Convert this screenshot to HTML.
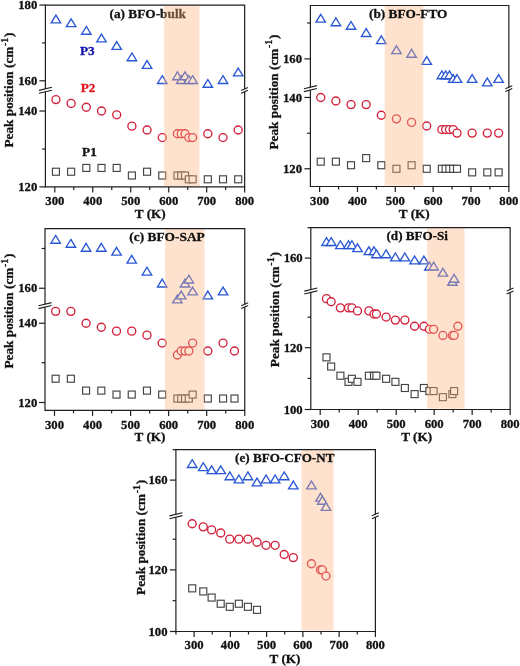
<!DOCTYPE html>
<html><head><meta charset="utf-8"><title>Peak position vs T</title>
<style>
html,body{margin:0;padding:0;background:#fff}
svg{display:block;filter:blur(0.35px)}
svg{font-family:"Liberation Serif",serif;font-weight:bold;font-size:12.7px}
</style></head><body>
<svg width="520" height="666" viewBox="0 0 520 666">
<rect width="520" height="666" fill="#fff"/>
<g fill="#111" stroke="#111" stroke-width="0.3">
<text x="109.5" y="18.2" font-size="13.3">(a) BFO-bulk</text>
<g fill="#fff" stroke-width="1.35">
<path d="M55.94 15.10L60.69 22.90L51.19 22.90Z" stroke="#2a58d4"/>
<path d="M71.13 18.89L75.88 26.69L66.38 26.69Z" stroke="#2a58d4"/>
<path d="M86.32 26.46L91.07 34.26L81.57 34.26Z" stroke="#2a58d4"/>
<path d="M101.50 34.04L106.25 41.84L96.75 41.84Z" stroke="#2a58d4"/>
<path d="M116.69 41.61L121.44 49.41L111.94 49.41Z" stroke="#2a58d4"/>
<path d="M131.88 52.97L136.63 60.77L127.13 60.77Z" stroke="#2a58d4"/>
<path d="M147.07 60.55L151.82 68.35L142.32 68.35Z" stroke="#2a58d4"/>
<path d="M162.26 75.70L167.01 83.50L157.51 83.50Z" stroke="#2a58d4"/>
<path d="M177.44 71.91L182.19 79.71L172.69 79.71Z" stroke="#2a58d4"/>
<path d="M181.24 75.70L185.99 83.50L176.49 83.50Z" stroke="#2a58d4"/>
<path d="M185.04 71.91L189.79 79.71L180.29 79.71Z" stroke="#2a58d4"/>
<path d="M188.83 75.70L193.58 83.50L184.08 83.50Z" stroke="#2a58d4"/>
<path d="M192.63 75.70L197.38 83.50L187.88 83.50Z" stroke="#2a58d4"/>
<path d="M207.82 79.49L212.57 87.29L203.07 87.29Z" stroke="#2a58d4"/>
<path d="M223.01 75.70L227.76 83.50L218.26 83.50Z" stroke="#2a58d4"/>
<path d="M238.20 68.12L242.95 75.92L233.45 75.92Z" stroke="#2a58d4"/>
<circle cx="55.94" cy="99.61" r="4.0" stroke="#d4203c"/>
<circle cx="71.13" cy="103.41" r="4.0" stroke="#d4203c"/>
<circle cx="86.32" cy="107.20" r="4.0" stroke="#d4203c"/>
<circle cx="101.50" cy="111.00" r="4.0" stroke="#d4203c"/>
<circle cx="116.69" cy="114.80" r="4.0" stroke="#d4203c"/>
<circle cx="131.88" cy="126.18" r="4.0" stroke="#d4203c"/>
<circle cx="147.07" cy="129.97" r="4.0" stroke="#d4203c"/>
<circle cx="162.26" cy="137.56" r="4.0" stroke="#d4203c"/>
<circle cx="177.44" cy="133.77" r="4.0" stroke="#d4203c"/>
<circle cx="181.24" cy="133.77" r="4.0" stroke="#d4203c"/>
<circle cx="185.04" cy="133.77" r="4.0" stroke="#d4203c"/>
<circle cx="188.83" cy="137.56" r="4.0" stroke="#d4203c"/>
<circle cx="192.63" cy="137.56" r="4.0" stroke="#d4203c"/>
<circle cx="207.82" cy="133.77" r="4.0" stroke="#d4203c"/>
<circle cx="223.01" cy="137.56" r="4.0" stroke="#d4203c"/>
<circle cx="238.20" cy="129.97" r="4.0" stroke="#d4203c"/>
<rect x="52.44" y="168.22" width="7" height="7" stroke="#444444" stroke-width="1.15"/>
<rect x="67.63" y="168.22" width="7" height="7" stroke="#444444" stroke-width="1.15"/>
<rect x="82.82" y="164.43" width="7" height="7" stroke="#444444" stroke-width="1.15"/>
<rect x="98.00" y="164.43" width="7" height="7" stroke="#444444" stroke-width="1.15"/>
<rect x="113.19" y="164.43" width="7" height="7" stroke="#444444" stroke-width="1.15"/>
<rect x="128.38" y="172.01" width="7" height="7" stroke="#444444" stroke-width="1.15"/>
<rect x="143.57" y="168.22" width="7" height="7" stroke="#444444" stroke-width="1.15"/>
<rect x="158.76" y="172.01" width="7" height="7" stroke="#444444" stroke-width="1.15"/>
<rect x="173.94" y="172.01" width="7" height="7" stroke="#444444" stroke-width="1.15"/>
<rect x="177.74" y="172.01" width="7" height="7" stroke="#444444" stroke-width="1.15"/>
<rect x="181.54" y="172.01" width="7" height="7" stroke="#444444" stroke-width="1.15"/>
<rect x="185.33" y="175.81" width="7" height="7" stroke="#444444" stroke-width="1.15"/>
<rect x="189.13" y="175.81" width="7" height="7" stroke="#444444" stroke-width="1.15"/>
<rect x="204.32" y="175.81" width="7" height="7" stroke="#444444" stroke-width="1.15"/>
<rect x="219.51" y="175.81" width="7" height="7" stroke="#444444" stroke-width="1.15"/>
<rect x="234.70" y="175.81" width="7" height="7" stroke="#444444" stroke-width="1.15"/>
</g>
<text x="80" y="54.9" fill="#1212aa" stroke="#1212aa" font-size="13.2">P3</text>
<text x="80.7" y="91.5" fill="#de1822" stroke="#de1822" font-size="13.2">P2</text>
<text x="82.1" y="156.1" fill="#111" stroke="#111" font-size="13.2">P1</text>
<rect x="164.1" y="5.55" width="35.400000000000006" height="180.45" fill="rgba(252,179,126,0.38)" stroke="none"/>
<g stroke="#1e1e1e" stroke-width="1.2" fill="none">
<path d="M45.4 5.05H244.65V186.9H45.4Z"/>
<path d="M54.80 186.9v5.5"/>
<path d="M92.77 186.9v5.5"/>
<path d="M130.74 186.9v5.5"/>
<path d="M168.71 186.9v5.5"/>
<path d="M206.68 186.9v5.5"/>
<path d="M244.65 186.9v5.5"/>
<path d="M73.78 186.9v3"/>
<path d="M111.75 186.9v3"/>
<path d="M149.72 186.9v3"/>
<path d="M187.69 186.9v3"/>
<path d="M225.66 186.9v3"/>
<path d="M45.4 5.05h-6"/>
<path d="M45.4 80.8h-6"/>
<path d="M45.4 111h-6"/>
<path d="M45.4 186.9h-6"/>
<path d="M45.4 42.9h-3.3"/>
<path d="M45.4 149h-3.3"/>
</g>
<path d="M44.4 89.1v2.6h2v-2.6z" fill="#fff" stroke="none" transform="skewY(0)"/>
<path d="M38.9 90.39999999999999l13 -3.1M38.9 93.3l13 -3.1" stroke="#1e1e1e" stroke-width="1.1" fill="none"/>
<path d="M243.65 89.1v2.6h2v-2.6z" fill="#fff" stroke="none" transform="skewY(0)"/>
<path d="M241.15 90.39999999999999l6.9 -3.0M241.15 93.3l6.9 -3.0" stroke="#1e1e1e" stroke-width="1.1" fill="none"/>
<text x="54.80" y="204.6" text-anchor="middle">300</text>
<text x="92.77" y="204.6" text-anchor="middle">400</text>
<text x="130.74" y="204.6" text-anchor="middle">500</text>
<text x="168.71" y="204.6" text-anchor="middle">600</text>
<text x="206.68" y="204.6" text-anchor="middle">700</text>
<text x="244.65" y="204.6" text-anchor="middle">800</text>
<text x="37.3" y="9.25" text-anchor="end">180</text>
<text x="37.3" y="85.00" text-anchor="end">160</text>
<text x="37.3" y="115.20" text-anchor="end">140</text>
<text x="37.3" y="191.10" text-anchor="end">120</text>
<text x="150.3" y="218.3" text-anchor="middle" font-size="13.2">T (K)</text>
<text transform="translate(12.9 90) rotate(-90)" text-anchor="middle" font-size="13.25">Peak position (cm<tspan font-size="10" dy="-5.4" dx="0.7">-1</tspan><tspan dy="5.4" dx="0.7">)</tspan></text>
</g>
<g fill="#111" stroke="#111" stroke-width="0.3">
<g fill="#fff" stroke-width="1.35">
<path d="M320.74 14.31L325.49 22.11L315.99 22.11Z" stroke="#2a58d4"/>
<path d="M335.88 17.90L340.63 25.70L331.13 25.70Z" stroke="#2a58d4"/>
<path d="M351.02 21.49L355.77 29.29L346.27 29.29Z" stroke="#2a58d4"/>
<path d="M366.16 28.67L370.91 36.47L361.41 36.47Z" stroke="#2a58d4"/>
<path d="M381.30 35.85L386.05 43.65L376.55 43.65Z" stroke="#2a58d4"/>
<path d="M396.44 45.82L401.19 53.62L391.69 53.62Z" stroke="#2a58d4"/>
<path d="M411.58 49.41L416.33 57.21L406.83 57.21Z" stroke="#2a58d4"/>
<path d="M426.72 56.59L431.47 64.39L421.97 64.39Z" stroke="#2a58d4"/>
<path d="M441.86 70.95L446.61 78.75L437.11 78.75Z" stroke="#2a58d4"/>
<path d="M445.64 70.95L450.39 78.75L440.89 78.75Z" stroke="#2a58d4"/>
<path d="M449.43 70.95L454.18 78.75L444.68 78.75Z" stroke="#2a58d4"/>
<path d="M453.21 74.54L457.96 82.34L448.46 82.34Z" stroke="#2a58d4"/>
<path d="M457.00 74.54L461.75 82.34L452.25 82.34Z" stroke="#2a58d4"/>
<path d="M472.14 74.54L476.89 82.34L467.39 82.34Z" stroke="#2a58d4"/>
<path d="M487.28 78.13L492.03 85.93L482.53 85.93Z" stroke="#2a58d4"/>
<path d="M498.63 74.54L503.38 82.34L493.88 82.34Z" stroke="#2a58d4"/>
<circle cx="320.74" cy="97.45" r="4.0" stroke="#d4203c"/>
<circle cx="335.88" cy="101.02" r="4.0" stroke="#d4203c"/>
<circle cx="351.02" cy="104.59" r="4.0" stroke="#d4203c"/>
<circle cx="366.16" cy="104.59" r="4.0" stroke="#d4203c"/>
<circle cx="381.30" cy="115.29" r="4.0" stroke="#d4203c"/>
<circle cx="396.44" cy="118.86" r="4.0" stroke="#d4203c"/>
<circle cx="411.58" cy="122.42" r="4.0" stroke="#d4203c"/>
<circle cx="426.72" cy="125.99" r="4.0" stroke="#d4203c"/>
<circle cx="441.86" cy="129.56" r="4.0" stroke="#d4203c"/>
<circle cx="445.64" cy="129.56" r="4.0" stroke="#d4203c"/>
<circle cx="449.43" cy="129.56" r="4.0" stroke="#d4203c"/>
<circle cx="453.21" cy="129.56" r="4.0" stroke="#d4203c"/>
<circle cx="457.00" cy="133.12" r="4.0" stroke="#d4203c"/>
<circle cx="472.14" cy="133.12" r="4.0" stroke="#d4203c"/>
<circle cx="487.28" cy="133.12" r="4.0" stroke="#d4203c"/>
<circle cx="498.63" cy="133.12" r="4.0" stroke="#d4203c"/>
<rect x="317.24" y="158.17" width="7" height="7" stroke="#444444" stroke-width="1.15"/>
<rect x="332.38" y="158.17" width="7" height="7" stroke="#444444" stroke-width="1.15"/>
<rect x="347.52" y="161.73" width="7" height="7" stroke="#444444" stroke-width="1.15"/>
<rect x="362.66" y="154.60" width="7" height="7" stroke="#444444" stroke-width="1.15"/>
<rect x="377.80" y="161.73" width="7" height="7" stroke="#444444" stroke-width="1.15"/>
<rect x="392.94" y="165.30" width="7" height="7" stroke="#444444" stroke-width="1.15"/>
<rect x="408.08" y="161.73" width="7" height="7" stroke="#444444" stroke-width="1.15"/>
<rect x="423.22" y="165.30" width="7" height="7" stroke="#444444" stroke-width="1.15"/>
<rect x="438.36" y="165.30" width="7" height="7" stroke="#444444" stroke-width="1.15"/>
<rect x="442.14" y="165.30" width="7" height="7" stroke="#444444" stroke-width="1.15"/>
<rect x="445.93" y="165.30" width="7" height="7" stroke="#444444" stroke-width="1.15"/>
<rect x="449.71" y="165.30" width="7" height="7" stroke="#444444" stroke-width="1.15"/>
<rect x="453.50" y="165.30" width="7" height="7" stroke="#444444" stroke-width="1.15"/>
<rect x="468.64" y="168.87" width="7" height="7" stroke="#444444" stroke-width="1.15"/>
<rect x="483.78" y="168.87" width="7" height="7" stroke="#444444" stroke-width="1.15"/>
<rect x="495.13" y="168.87" width="7" height="7" stroke="#444444" stroke-width="1.15"/>
</g>
<rect x="384.7" y="6.0" width="38.5" height="179.6" fill="rgba(252,179,126,0.38)" stroke="none"/>
<text x="369.0" y="17.9" font-size="13.3">(b) BFO-FTO</text>
<g stroke="#1e1e1e" stroke-width="1.2" fill="none">
<path d="M310.4 5.5H508.85V186.5H310.4Z"/>
<path d="M319.60 186.5v5.5"/>
<path d="M357.45 186.5v5.5"/>
<path d="M395.30 186.5v5.5"/>
<path d="M433.15 186.5v5.5"/>
<path d="M471.00 186.5v5.5"/>
<path d="M508.85 186.5v5.5"/>
<path d="M338.53 186.5v3"/>
<path d="M376.38 186.5v3"/>
<path d="M414.23 186.5v3"/>
<path d="M452.08 186.5v3"/>
<path d="M489.93 186.5v3"/>
<path d="M310.4 58.9h-6"/>
<path d="M310.4 97.45h-6"/>
<path d="M310.4 168.8h-6"/>
<path d="M310.4 23h-3.3"/>
<path d="M310.4 133.25h-3.3"/>
</g>
<path d="M309.4 87.39999999999999v2.6h2v-2.6z" fill="#fff" stroke="none" transform="skewY(0)"/>
<path d="M303.9 88.69999999999999l13 -3.1M303.9 91.6l13 -3.1" stroke="#1e1e1e" stroke-width="1.1" fill="none"/>
<path d="M507.85 87.39999999999999v2.6h2v-2.6z" fill="#fff" stroke="none" transform="skewY(0)"/>
<path d="M505.35 88.69999999999999l6.9 -3.0M505.35 91.6l6.9 -3.0" stroke="#1e1e1e" stroke-width="1.1" fill="none"/>
<text x="319.60" y="204.6" text-anchor="middle">300</text>
<text x="357.45" y="204.6" text-anchor="middle">400</text>
<text x="395.30" y="204.6" text-anchor="middle">500</text>
<text x="433.15" y="204.6" text-anchor="middle">600</text>
<text x="471.00" y="204.6" text-anchor="middle">700</text>
<text x="508.85" y="204.6" text-anchor="middle">800</text>
<text x="302" y="63.10" text-anchor="end">160</text>
<text x="302" y="101.65" text-anchor="end">140</text>
<text x="302" y="173.00" text-anchor="end">120</text>
<text x="414.3" y="218.3" text-anchor="middle" font-size="13.2">T (K)</text>
<text transform="translate(277.85 92) rotate(-90)" text-anchor="middle" font-size="13.25">Peak position (cm<tspan font-size="10" dy="-5.4" dx="0.7">-1</tspan><tspan dy="5.4" dx="0.7">)</tspan></text>
</g>
<g fill="#111" stroke="#111" stroke-width="0.3">
<g fill="#fff" stroke-width="1.35">
<path d="M55.64 235.45L60.39 243.25L50.89 243.25Z" stroke="#2a58d4"/>
<path d="M70.86 239.43L75.61 247.22L66.11 247.22Z" stroke="#2a58d4"/>
<path d="M86.08 243.40L90.83 251.20L81.33 251.20Z" stroke="#2a58d4"/>
<path d="M101.30 243.40L106.05 251.20L96.55 251.20Z" stroke="#2a58d4"/>
<path d="M116.52 247.38L121.27 255.17L111.77 255.17Z" stroke="#2a58d4"/>
<path d="M131.74 255.33L136.49 263.12L126.99 263.12Z" stroke="#2a58d4"/>
<path d="M146.96 267.25L151.71 275.05L142.21 275.05Z" stroke="#2a58d4"/>
<path d="M162.18 279.17L166.93 286.97L157.43 286.97Z" stroke="#2a58d4"/>
<path d="M177.40 295.07L182.15 302.88L172.65 302.88Z" stroke="#2a58d4"/>
<path d="M181.21 291.10L185.96 298.90L176.46 298.90Z" stroke="#2a58d4"/>
<path d="M185.01 279.17L189.76 286.97L180.26 286.97Z" stroke="#2a58d4"/>
<path d="M188.82 275.20L193.57 283.00L184.07 283.00Z" stroke="#2a58d4"/>
<path d="M192.62 287.12L197.37 294.93L187.87 294.93Z" stroke="#2a58d4"/>
<path d="M207.84 291.10L212.59 298.90L203.09 298.90Z" stroke="#2a58d4"/>
<path d="M223.06 287.12L227.81 294.93L218.31 294.93Z" stroke="#2a58d4"/>
<circle cx="55.64" cy="311.36" r="4.0" stroke="#d4203c"/>
<circle cx="70.86" cy="311.36" r="4.0" stroke="#d4203c"/>
<circle cx="86.08" cy="323.25" r="4.0" stroke="#d4203c"/>
<circle cx="101.30" cy="327.21" r="4.0" stroke="#d4203c"/>
<circle cx="116.52" cy="331.18" r="4.0" stroke="#d4203c"/>
<circle cx="131.74" cy="331.18" r="4.0" stroke="#d4203c"/>
<circle cx="146.96" cy="335.14" r="4.0" stroke="#d4203c"/>
<circle cx="162.18" cy="343.06" r="4.0" stroke="#d4203c"/>
<circle cx="177.40" cy="354.95" r="4.0" stroke="#d4203c"/>
<circle cx="181.21" cy="350.99" r="4.0" stroke="#d4203c"/>
<circle cx="185.01" cy="350.99" r="4.0" stroke="#d4203c"/>
<circle cx="188.82" cy="350.99" r="4.0" stroke="#d4203c"/>
<circle cx="192.62" cy="343.06" r="4.0" stroke="#d4203c"/>
<circle cx="207.84" cy="350.99" r="4.0" stroke="#d4203c"/>
<circle cx="223.06" cy="343.06" r="4.0" stroke="#d4203c"/>
<circle cx="234.48" cy="350.99" r="4.0" stroke="#d4203c"/>
<rect x="52.14" y="375.23" width="7" height="7" stroke="#444444" stroke-width="1.15"/>
<rect x="67.36" y="375.23" width="7" height="7" stroke="#444444" stroke-width="1.15"/>
<rect x="82.58" y="387.11" width="7" height="7" stroke="#444444" stroke-width="1.15"/>
<rect x="97.80" y="387.11" width="7" height="7" stroke="#444444" stroke-width="1.15"/>
<rect x="113.02" y="391.07" width="7" height="7" stroke="#444444" stroke-width="1.15"/>
<rect x="128.24" y="391.07" width="7" height="7" stroke="#444444" stroke-width="1.15"/>
<rect x="143.46" y="387.11" width="7" height="7" stroke="#444444" stroke-width="1.15"/>
<rect x="158.68" y="391.07" width="7" height="7" stroke="#444444" stroke-width="1.15"/>
<rect x="173.90" y="395.04" width="7" height="7" stroke="#444444" stroke-width="1.15"/>
<rect x="177.71" y="395.04" width="7" height="7" stroke="#444444" stroke-width="1.15"/>
<rect x="181.51" y="395.04" width="7" height="7" stroke="#444444" stroke-width="1.15"/>
<rect x="185.32" y="395.04" width="7" height="7" stroke="#444444" stroke-width="1.15"/>
<rect x="189.12" y="391.07" width="7" height="7" stroke="#444444" stroke-width="1.15"/>
<rect x="204.34" y="395.04" width="7" height="7" stroke="#444444" stroke-width="1.15"/>
<rect x="219.56" y="395.04" width="7" height="7" stroke="#444444" stroke-width="1.15"/>
<rect x="230.98" y="395.04" width="7" height="7" stroke="#444444" stroke-width="1.15"/>
</g>
<rect x="165.1" y="229.2" width="39.400000000000006" height="180.29999999999998" fill="rgba(252,179,126,0.38)" stroke="none"/>
<text x="129.3" y="240.9" font-size="13.4">(c) BFO-SAP</text>
<g stroke="#1e1e1e" stroke-width="1.2" fill="none">
<path d="M45 228.7H244.75V410.4H45Z"/>
<path d="M54.50 410.4v5.5"/>
<path d="M92.55 410.4v5.5"/>
<path d="M130.60 410.4v5.5"/>
<path d="M168.65 410.4v5.5"/>
<path d="M206.70 410.4v5.5"/>
<path d="M244.75 410.4v5.5"/>
<path d="M73.53 410.4v3"/>
<path d="M111.58 410.4v3"/>
<path d="M149.62 410.4v3"/>
<path d="M187.68 410.4v3"/>
<path d="M225.72 410.4v3"/>
<path d="M45 288.25h-6"/>
<path d="M45 323.25h-6"/>
<path d="M45 402.5h-6"/>
<path d="M45 248.5h-3.3"/>
<path d="M45 362.7h-3.3"/>
</g>
<path d="M44 304.40000000000003v2.6h2v-2.6z" fill="#fff" stroke="none" transform="skewY(0)"/>
<path d="M38.5 305.70000000000005l13 -3.1M38.5 308.6l13 -3.1" stroke="#1e1e1e" stroke-width="1.1" fill="none"/>
<path d="M243.75 304.40000000000003v2.6h2v-2.6z" fill="#fff" stroke="none" transform="skewY(0)"/>
<path d="M241.25 305.70000000000005l6.9 -3.0M241.25 308.6l6.9 -3.0" stroke="#1e1e1e" stroke-width="1.1" fill="none"/>
<text x="54.50" y="428.85" text-anchor="middle">300</text>
<text x="92.55" y="428.85" text-anchor="middle">400</text>
<text x="130.60" y="428.85" text-anchor="middle">500</text>
<text x="168.65" y="428.85" text-anchor="middle">600</text>
<text x="206.70" y="428.85" text-anchor="middle">700</text>
<text x="244.75" y="428.85" text-anchor="middle">800</text>
<text x="37.3" y="292.45" text-anchor="end">160</text>
<text x="37.3" y="327.45" text-anchor="end">140</text>
<text x="37.3" y="406.70" text-anchor="end">120</text>
<text x="150" y="441.25" text-anchor="middle" font-size="13.2">T (K)</text>
<text transform="translate(12.9 311) rotate(-90)" text-anchor="middle" font-size="13.25">Peak position (cm<tspan font-size="10" dy="-5.4" dx="0.7">-1</tspan><tspan dy="5.4" dx="0.7">)</tspan></text>
</g>
<g fill="#111" stroke="#111" stroke-width="0.3">
<g fill="#fff" stroke-width="1.35">
<path d="M326.50 237.70L331.25 245.50L321.75 245.50Z" stroke="#2a58d4"/>
<path d="M331.15 237.70L335.90 245.50L326.40 245.50Z" stroke="#2a58d4"/>
<path d="M340.40 240.76L345.15 248.56L335.65 248.56Z" stroke="#2a58d4"/>
<path d="M348.50 240.76L353.25 248.56L343.75 248.56Z" stroke="#2a58d4"/>
<path d="M351.90 240.76L356.65 248.56L347.15 248.56Z" stroke="#2a58d4"/>
<path d="M357.50 243.82L362.25 251.62L352.75 251.62Z" stroke="#2a58d4"/>
<path d="M368.90 246.88L373.65 254.68L364.15 254.68Z" stroke="#2a58d4"/>
<path d="M374.00 246.88L378.75 254.68L369.25 254.68Z" stroke="#2a58d4"/>
<path d="M376.40 249.94L381.15 257.74L371.65 257.74Z" stroke="#2a58d4"/>
<path d="M386.10 249.94L390.85 257.74L381.35 257.74Z" stroke="#2a58d4"/>
<path d="M395.40 253.00L400.15 260.80L390.65 260.80Z" stroke="#2a58d4"/>
<path d="M404.85 253.00L409.60 260.80L400.10 260.80Z" stroke="#2a58d4"/>
<path d="M414.60 256.06L419.35 263.86L409.85 263.86Z" stroke="#2a58d4"/>
<path d="M423.90 256.06L428.65 263.86L419.15 263.86Z" stroke="#2a58d4"/>
<path d="M429.40 262.18L434.15 269.98L424.65 269.98Z" stroke="#2a58d4"/>
<path d="M433.60 262.18L438.35 269.98L428.85 269.98Z" stroke="#2a58d4"/>
<path d="M442.90 268.30L447.65 276.10L438.15 276.10Z" stroke="#2a58d4"/>
<path d="M452.40 277.48L457.15 285.28L447.65 285.28Z" stroke="#2a58d4"/>
<path d="M454.10 274.42L458.85 282.22L449.35 282.22Z" stroke="#2a58d4"/>
<circle cx="326.50" cy="298.66" r="4.0" stroke="#d4203c"/>
<circle cx="331.15" cy="301.72" r="4.0" stroke="#d4203c"/>
<circle cx="340.40" cy="307.86" r="4.0" stroke="#d4203c"/>
<circle cx="348.50" cy="307.86" r="4.0" stroke="#d4203c"/>
<circle cx="351.90" cy="307.86" r="4.0" stroke="#d4203c"/>
<circle cx="357.50" cy="310.92" r="4.0" stroke="#d4203c"/>
<circle cx="368.90" cy="310.92" r="4.0" stroke="#d4203c"/>
<circle cx="374.00" cy="313.99" r="4.0" stroke="#d4203c"/>
<circle cx="376.40" cy="313.99" r="4.0" stroke="#d4203c"/>
<circle cx="386.10" cy="317.05" r="4.0" stroke="#d4203c"/>
<circle cx="395.40" cy="320.12" r="4.0" stroke="#d4203c"/>
<circle cx="404.85" cy="320.12" r="4.0" stroke="#d4203c"/>
<circle cx="414.60" cy="326.25" r="4.0" stroke="#d4203c"/>
<circle cx="423.90" cy="326.25" r="4.0" stroke="#d4203c"/>
<circle cx="429.40" cy="329.31" r="4.0" stroke="#d4203c"/>
<circle cx="433.60" cy="329.31" r="4.0" stroke="#d4203c"/>
<circle cx="442.90" cy="335.44" r="4.0" stroke="#d4203c"/>
<circle cx="452.40" cy="335.44" r="4.0" stroke="#d4203c"/>
<circle cx="454.10" cy="335.44" r="4.0" stroke="#d4203c"/>
<circle cx="457.90" cy="326.25" r="4.0" stroke="#d4203c"/>
<rect x="323.00" y="353.84" width="7" height="7" stroke="#444444" stroke-width="1.15"/>
<rect x="327.65" y="363.04" width="7" height="7" stroke="#444444" stroke-width="1.15"/>
<rect x="336.90" y="372.23" width="7" height="7" stroke="#444444" stroke-width="1.15"/>
<rect x="345.00" y="378.36" width="7" height="7" stroke="#444444" stroke-width="1.15"/>
<rect x="348.40" y="375.30" width="7" height="7" stroke="#444444" stroke-width="1.15"/>
<rect x="354.00" y="378.36" width="7" height="7" stroke="#444444" stroke-width="1.15"/>
<rect x="365.40" y="372.23" width="7" height="7" stroke="#444444" stroke-width="1.15"/>
<rect x="370.50" y="372.23" width="7" height="7" stroke="#444444" stroke-width="1.15"/>
<rect x="372.90" y="372.23" width="7" height="7" stroke="#444444" stroke-width="1.15"/>
<rect x="382.60" y="375.30" width="7" height="7" stroke="#444444" stroke-width="1.15"/>
<rect x="391.90" y="378.36" width="7" height="7" stroke="#444444" stroke-width="1.15"/>
<rect x="401.35" y="384.49" width="7" height="7" stroke="#444444" stroke-width="1.15"/>
<rect x="411.10" y="390.62" width="7" height="7" stroke="#444444" stroke-width="1.15"/>
<rect x="420.40" y="384.49" width="7" height="7" stroke="#444444" stroke-width="1.15"/>
<rect x="425.90" y="387.56" width="7" height="7" stroke="#444444" stroke-width="1.15"/>
<rect x="430.10" y="387.56" width="7" height="7" stroke="#444444" stroke-width="1.15"/>
<rect x="439.40" y="393.69" width="7" height="7" stroke="#444444" stroke-width="1.15"/>
<rect x="448.90" y="390.62" width="7" height="7" stroke="#444444" stroke-width="1.15"/>
<rect x="450.60" y="387.56" width="7" height="7" stroke="#444444" stroke-width="1.15"/>
</g>
<rect x="427.2" y="228.2" width="37.30000000000001" height="180.4" fill="rgba(252,179,126,0.38)" stroke="none"/>
<text x="386.5" y="240.4" font-size="13.1">(d) BFO-Si</text>
<g stroke="#1e1e1e" stroke-width="1.2" fill="none">
<path d="M310.8 227.7H510.15V409.5H310.8Z"/>
<path d="M320.20 409.5v5.5"/>
<path d="M358.19 409.5v5.5"/>
<path d="M396.18 409.5v5.5"/>
<path d="M434.17 409.5v5.5"/>
<path d="M472.16 409.5v5.5"/>
<path d="M510.15 409.5v5.5"/>
<path d="M339.19 409.5v3"/>
<path d="M377.19 409.5v3"/>
<path d="M415.18 409.5v3"/>
<path d="M453.16 409.5v3"/>
<path d="M491.15 409.5v3"/>
<path d="M310.8 258.1h-6"/>
<path d="M310.8 347.7h-6"/>
<path d="M310.8 409.5h-6"/>
<path d="M310.8 227.7h-3.3"/>
<path d="M310.8 317.2h-3.3"/>
<path d="M310.8 378.4h-3.3"/>
</g>
<path d="M309.8 289.8v2.6h2v-2.6z" fill="#fff" stroke="none" transform="skewY(0)"/>
<path d="M304.3 291.1l13 -3.1M304.3 294l13 -3.1" stroke="#1e1e1e" stroke-width="1.1" fill="none"/>
<path d="M509.15 289.8v2.6h2v-2.6z" fill="#fff" stroke="none" transform="skewY(0)"/>
<path d="M506.65 291.1l6.9 -3.0M506.65 294.0l6.9 -3.0" stroke="#1e1e1e" stroke-width="1.1" fill="none"/>
<text x="320.20" y="428.2" text-anchor="middle">300</text>
<text x="358.19" y="428.2" text-anchor="middle">400</text>
<text x="396.18" y="428.2" text-anchor="middle">500</text>
<text x="434.17" y="428.2" text-anchor="middle">600</text>
<text x="472.16" y="428.2" text-anchor="middle">700</text>
<text x="510.15" y="428.2" text-anchor="middle">800</text>
<text x="302.7" y="262.30" text-anchor="end">160</text>
<text x="302.7" y="351.90" text-anchor="end">120</text>
<text x="302.7" y="413.70" text-anchor="end">100</text>
<text x="416.7" y="441.25" text-anchor="middle" font-size="13.2">T (K)</text>
<text transform="translate(279.3 309.7) rotate(-90)" text-anchor="middle" font-size="13.25">Peak position (cm<tspan font-size="10" dy="-5.4" dx="0.7">-1</tspan><tspan dy="5.4" dx="0.7">)</tspan></text>
</g>
<g fill="#111" stroke="#111" stroke-width="0.3">
<g fill="#fff" stroke-width="1.35">
<path d="M192.20 459.70L196.95 467.50L187.45 467.50Z" stroke="#2a58d4"/>
<path d="M203.27 462.76L208.02 470.56L198.52 470.56Z" stroke="#2a58d4"/>
<path d="M211.62 465.82L216.37 473.62L206.87 473.62Z" stroke="#2a58d4"/>
<path d="M220.70 465.82L225.45 473.62L215.95 473.62Z" stroke="#2a58d4"/>
<path d="M229.77 471.94L234.52 479.74L225.02 479.74Z" stroke="#2a58d4"/>
<path d="M238.85 475.00L243.60 482.80L234.10 482.80Z" stroke="#2a58d4"/>
<path d="M247.92 471.94L252.67 479.74L243.17 479.74Z" stroke="#2a58d4"/>
<path d="M257.00 478.06L261.75 485.86L252.25 485.86Z" stroke="#2a58d4"/>
<path d="M266.07 475.00L270.82 482.80L261.32 482.80Z" stroke="#2a58d4"/>
<path d="M275.15 475.00L279.90 482.80L270.40 482.80Z" stroke="#2a58d4"/>
<path d="M284.22 471.94L288.97 479.74L279.47 479.74Z" stroke="#2a58d4"/>
<path d="M293.30 481.12L298.05 488.92L288.55 488.92Z" stroke="#2a58d4"/>
<path d="M311.45 481.12L316.20 488.92L306.70 488.92Z" stroke="#2a58d4"/>
<path d="M320.52 493.36L325.27 501.16L315.77 501.16Z" stroke="#2a58d4"/>
<path d="M322.34 496.42L327.09 504.22L317.59 504.22Z" stroke="#2a58d4"/>
<path d="M325.97 502.54L330.72 510.34L321.22 510.34Z" stroke="#2a58d4"/>
<circle cx="192.20" cy="523.77" r="4.0" stroke="#d4203c"/>
<circle cx="203.27" cy="526.85" r="4.0" stroke="#d4203c"/>
<circle cx="211.62" cy="529.92" r="4.0" stroke="#d4203c"/>
<circle cx="220.70" cy="533.00" r="4.0" stroke="#d4203c"/>
<circle cx="229.77" cy="539.15" r="4.0" stroke="#d4203c"/>
<circle cx="238.85" cy="539.15" r="4.0" stroke="#d4203c"/>
<circle cx="247.92" cy="539.15" r="4.0" stroke="#d4203c"/>
<circle cx="257.00" cy="542.23" r="4.0" stroke="#d4203c"/>
<circle cx="266.07" cy="545.30" r="4.0" stroke="#d4203c"/>
<circle cx="275.15" cy="545.30" r="4.0" stroke="#d4203c"/>
<circle cx="284.22" cy="554.52" r="4.0" stroke="#d4203c"/>
<circle cx="293.30" cy="557.60" r="4.0" stroke="#d4203c"/>
<circle cx="311.45" cy="563.75" r="4.0" stroke="#d4203c"/>
<circle cx="320.52" cy="569.90" r="4.0" stroke="#d4203c"/>
<circle cx="322.34" cy="569.90" r="4.0" stroke="#d4203c"/>
<circle cx="325.97" cy="576.05" r="4.0" stroke="#d4203c"/>
<rect x="188.70" y="584.85" width="7" height="7" stroke="#444444" stroke-width="1.15"/>
<rect x="199.77" y="587.92" width="7" height="7" stroke="#444444" stroke-width="1.15"/>
<rect x="208.12" y="594.07" width="7" height="7" stroke="#444444" stroke-width="1.15"/>
<rect x="217.20" y="600.23" width="7" height="7" stroke="#444444" stroke-width="1.15"/>
<rect x="226.27" y="603.30" width="7" height="7" stroke="#444444" stroke-width="1.15"/>
<rect x="235.35" y="600.23" width="7" height="7" stroke="#444444" stroke-width="1.15"/>
<rect x="244.42" y="603.30" width="7" height="7" stroke="#444444" stroke-width="1.15"/>
<rect x="253.50" y="606.38" width="7" height="7" stroke="#444444" stroke-width="1.15"/>
</g>
<rect x="301.5" y="450.2" width="32.10000000000002" height="180.4" fill="rgba(252,179,126,0.38)" stroke="none"/>
<text x="235.1" y="462.2" font-size="13.1">(e) BFO-CFO-NT</text>
<g stroke="#1e1e1e" stroke-width="1.2" fill="none">
<path d="M175.9 449.7H375.4V631.5H175.9Z"/>
<path d="M194.10 631.5v5.5"/>
<path d="M230.36 631.5v5.5"/>
<path d="M266.62 631.5v5.5"/>
<path d="M302.88 631.5v5.5"/>
<path d="M339.14 631.5v5.5"/>
<path d="M375.40 631.5v5.5"/>
<path d="M175.97 631.5v3"/>
<path d="M212.23 631.5v3"/>
<path d="M248.49 631.5v3"/>
<path d="M284.75 631.5v3"/>
<path d="M321.01 631.5v3"/>
<path d="M357.27 631.5v3"/>
<path d="M175.9 480.1h-6"/>
<path d="M175.9 569.9h-6"/>
<path d="M175.9 631.5h-6"/>
<path d="M175.9 449.7h-3.3"/>
<path d="M175.9 539.2h-3.3"/>
<path d="M175.9 600.7h-3.3"/>
</g>
<path d="M174.9 514.55v2.6h2v-2.6z" fill="#fff" stroke="none" transform="skewY(0)"/>
<path d="M169.4 515.85l13 -3.1M169.4 518.75l13 -3.1" stroke="#1e1e1e" stroke-width="1.1" fill="none"/>
<path d="M374.4 514.55v2.6h2v-2.6z" fill="#fff" stroke="none" transform="skewY(0)"/>
<path d="M371.9 515.85l6.9 -3.0M371.9 518.75l6.9 -3.0" stroke="#1e1e1e" stroke-width="1.1" fill="none"/>
<text x="194.10" y="649.3" text-anchor="middle">300</text>
<text x="230.36" y="649.3" text-anchor="middle">400</text>
<text x="266.62" y="649.3" text-anchor="middle">500</text>
<text x="302.88" y="649.3" text-anchor="middle">600</text>
<text x="339.14" y="649.3" text-anchor="middle">700</text>
<text x="375.40" y="649.3" text-anchor="middle">800</text>
<text x="167.5" y="484.30" text-anchor="end">160</text>
<text x="167.5" y="574.10" text-anchor="end">120</text>
<text x="167.5" y="635.70" text-anchor="end">100</text>
<text x="285" y="663.25" text-anchor="middle" font-size="13.2">T (K)</text>
<text transform="translate(145.2 537.4) rotate(-90)" text-anchor="middle" font-size="13.25">Peak position (cm<tspan font-size="10" dy="-5.4" dx="0.7">-1</tspan><tspan dy="5.4" dx="0.7">)</tspan></text>
</g>
</svg>
</body></html>
